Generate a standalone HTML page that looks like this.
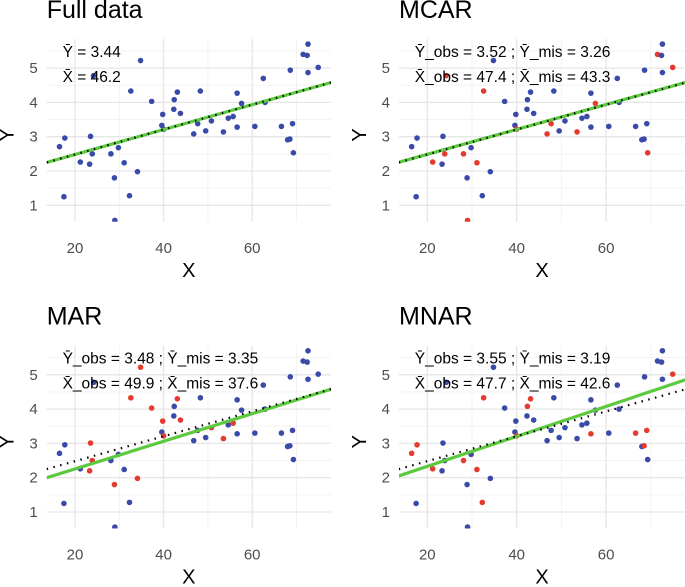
<!DOCTYPE html>
<html><head><meta charset="utf-8"><style>
body{margin:0;background:#fff;}
svg{display:block;font-family:"Liberation Sans",sans-serif;}
</style></head><body>
<svg id="chart" width="685" height="587" viewBox="0 0 685 587"></svg>
<script>
const xVals=[16.5,17.7,17.5,21.2,23.3,23.5,23.9,24.2,28.1,28.9,29.0,29.8,31.1,32.3,32.6,34.1,34.8,37.3,39.8,39.6,42.3,42.4,43.1,43.8,46.8,47.7,48.3,49.5,50.8,53.5,54.6,55.7,56.6,56.6,57.6,60.6,62.5,62.9,66.6,68.0,68.5,68.6,69.1,69.3,71.5,72.4,72.6,72.6,74.9,40.0];
const yVals=[2.71,2.96,1.25,2.26,2.20,3.01,2.50,4.78,2.50,1.80,0.56,2.68,2.24,1.28,4.33,1.98,5.22,4.03,3.65,3.33,3.80,4.08,4.30,3.68,3.08,3.38,4.33,3.17,3.46,3.14,3.54,3.59,4.27,3.28,3.97,3.30,4.70,4.00,3.30,2.91,2.93,4.94,3.38,2.53,5.40,5.37,5.70,4.87,5.02,3.22];
// indices (1-based) of missing points per mechanism
const missMCAR=[4,7,8,9,11,13,15,25,26,30,35,44,45,49,50];
const missMAR=[5,6,7,10,15,16,17,18,19,23,24,29,30,32,50];
const missMNAR=[1,2,4,9,13,14,15,22,23,34,39,41,43,49,50];
const panelTitles=["Full data","MCAR","MAR","MNAR"];
const annotLine1=["Ȳ = 3.44","Ȳ_obs = 3.52 ; Ȳ_mis = 3.26","Ȳ_obs = 3.48 ; Ȳ_mis = 3.35","Ȳ_obs = 3.55 ; Ȳ_mis = 3.19"];
const annotLine2=["X̄ = 46.2","X̄_obs = 47.4 ; X̄_mis = 43.3","X̄_obs = 49.9 ; X̄_mis = 37.6","X̄_obs = 47.7 ; X̄_mis = 42.6"];
// regression lines [intercept, slope]
const fullFit=[1.756,0.0363];
const obsFitIntercept=[1.756,1.76,1.453,1.456];
const obsFitSlope=[0.0363,0.0363,0.0402,0.0437];
const xTicks=[20,40,60];
const yTicks=[1,2,3,4,5];

const NS="http://www.w3.org/2000/svg";
const svg=document.getElementById('chart');
function mk(tag,attrs,parent){const e=document.createElementNS(NS,tag);for(const k in attrs)e.setAttribute(k,attrs[k]);(parent||svg).appendChild(e);return e;}

const panels=[
 {left:46.7,right:331,x20:75,kx:4.43,yOff:0},
 {left:399,right:685,x20:427.3,kx:4.47,yOff:0},
 {left:46.7,right:331,x20:75,kx:4.43,yOff:306.7},
 {left:399,right:685,x20:427.3,kx:4.47,yOff:306.7}
];
const missSets=[[],missMCAR,missMAR,missMNAR];
const XMIN=13.6,XMAX=77.8,YMIN=0.52,YMAX=5.85;

panels.forEach((p,pi)=>{
  const sx=v=>p.x20+(v-20)*p.kx;
  const sy=v=>p.yOff+205.3-(v-1)*34.3;
  const g=mk('g',{});
  
  
  const top=sy(YMAX),bot=sy(YMIN);
  for(let v=10;v<=80;v+=20){const x=sx(v);if(x>=p.left&&x<=p.right){const l=mk('line',{x1:x,x2:x,y1:top,y2:bot,stroke:'#f0f0f0','stroke-width':0.8},g);}}
  for(let v=0.5;v<=5.5;v+=1){const y=sy(v);if(y>=top&&y<=bot){const l=mk('line',{x1:p.left,x2:p.right,y1:y,y2:y,stroke:'#f0f0f0','stroke-width':0.8},g);}}
  xTicks.forEach(v=>{const x=sx(v);const l=mk('line',{x1:x,x2:x,y1:top,y2:bot,stroke:'#e6e6e6','stroke-width':1.3},g);
    const t=mk('text',{x:x,y:p.yOff+253,'text-anchor':'middle','font-size':15,fill:'#4d4d4d'},g);t.textContent=v;});
  yTicks.forEach(v=>{const y=sy(v);const l=mk('line',{x1:p.left,x2:p.right,y1:y,y2:y,stroke:'#e6e6e6','stroke-width':1.3},g);
    const t=mk('text',{x:p.left-9,y:y+5,'text-anchor':'end','font-size':15,fill:'#4d4d4d'},g);t.textContent=v;});
  const tt=mk('text',{x:p.left,y:p.yOff+18,'font-size':25,fill:'#000'},g);tt.textContent=panelTitles[pi];
  
  const xt=mk('text',{x:(p.left+p.right)/2,y:p.yOff+277,'text-anchor':'middle','font-size':20,fill:'#000'},g);xt.textContent='X';
  
  const yy=p.yOff+135;const yx=p.left-33;
  const yt=mk('text',{x:yx,y:yy,'text-anchor':'middle','font-size':20,fill:'#000',transform:`rotate(-90 ${yx} ${yy})`},g);yt.textContent='Y';
  
  const cp=mk('clipPath',{id:'clip'+pi},g);mk('rect',{x:p.left,y:top,width:p.right-p.left,height:bot-top},cp);
  const plot=mk('g',{'clip-path':`url(#clip${pi})`},g);
  const miss=missSets[pi];
  xVals.forEach((xv,i)=>{
    const isMiss=miss.indexOf(i+1)>=0;
    const c=mk('circle',{cx:sx(xv),cy:sy(yVals[i]),r:2.8,fill:isMiss?'#e53a2e':'#3a4aa8'},plot);
    
    
  });
  const a=obsFitIntercept[pi],b=obsFitSlope[pi];
  const gl=mk('line',{x1:sx(XMIN),y1:sy(a+b*XMIN),x2:sx(XMAX),y2:sy(a+b*XMAX),stroke:'#5cc93e','stroke-width':3.2},plot);
  
  const dl=mk('line',{x1:sx(XMIN),y1:sy(fullFit[0]+fullFit[1]*XMIN),x2:sx(XMAX),y2:sy(fullFit[0]+fullFit[1]*XMAX),stroke:'#000','stroke-width':2.2,'stroke-dasharray':'1.5 5.5'},plot);
  
  const ax=sx(17.2);
  const t1=mk('text',{x:ax,y:p.yOff+57,'font-size':15.5,fill:'#000'},g);t1.textContent=annotLine1[pi];
  
  const t2=mk('text',{x:ax,y:p.yOff+82,'font-size':15.5,fill:'#000'},g);t2.textContent=annotLine2[pi];
  
});
</script>
</body></html>
